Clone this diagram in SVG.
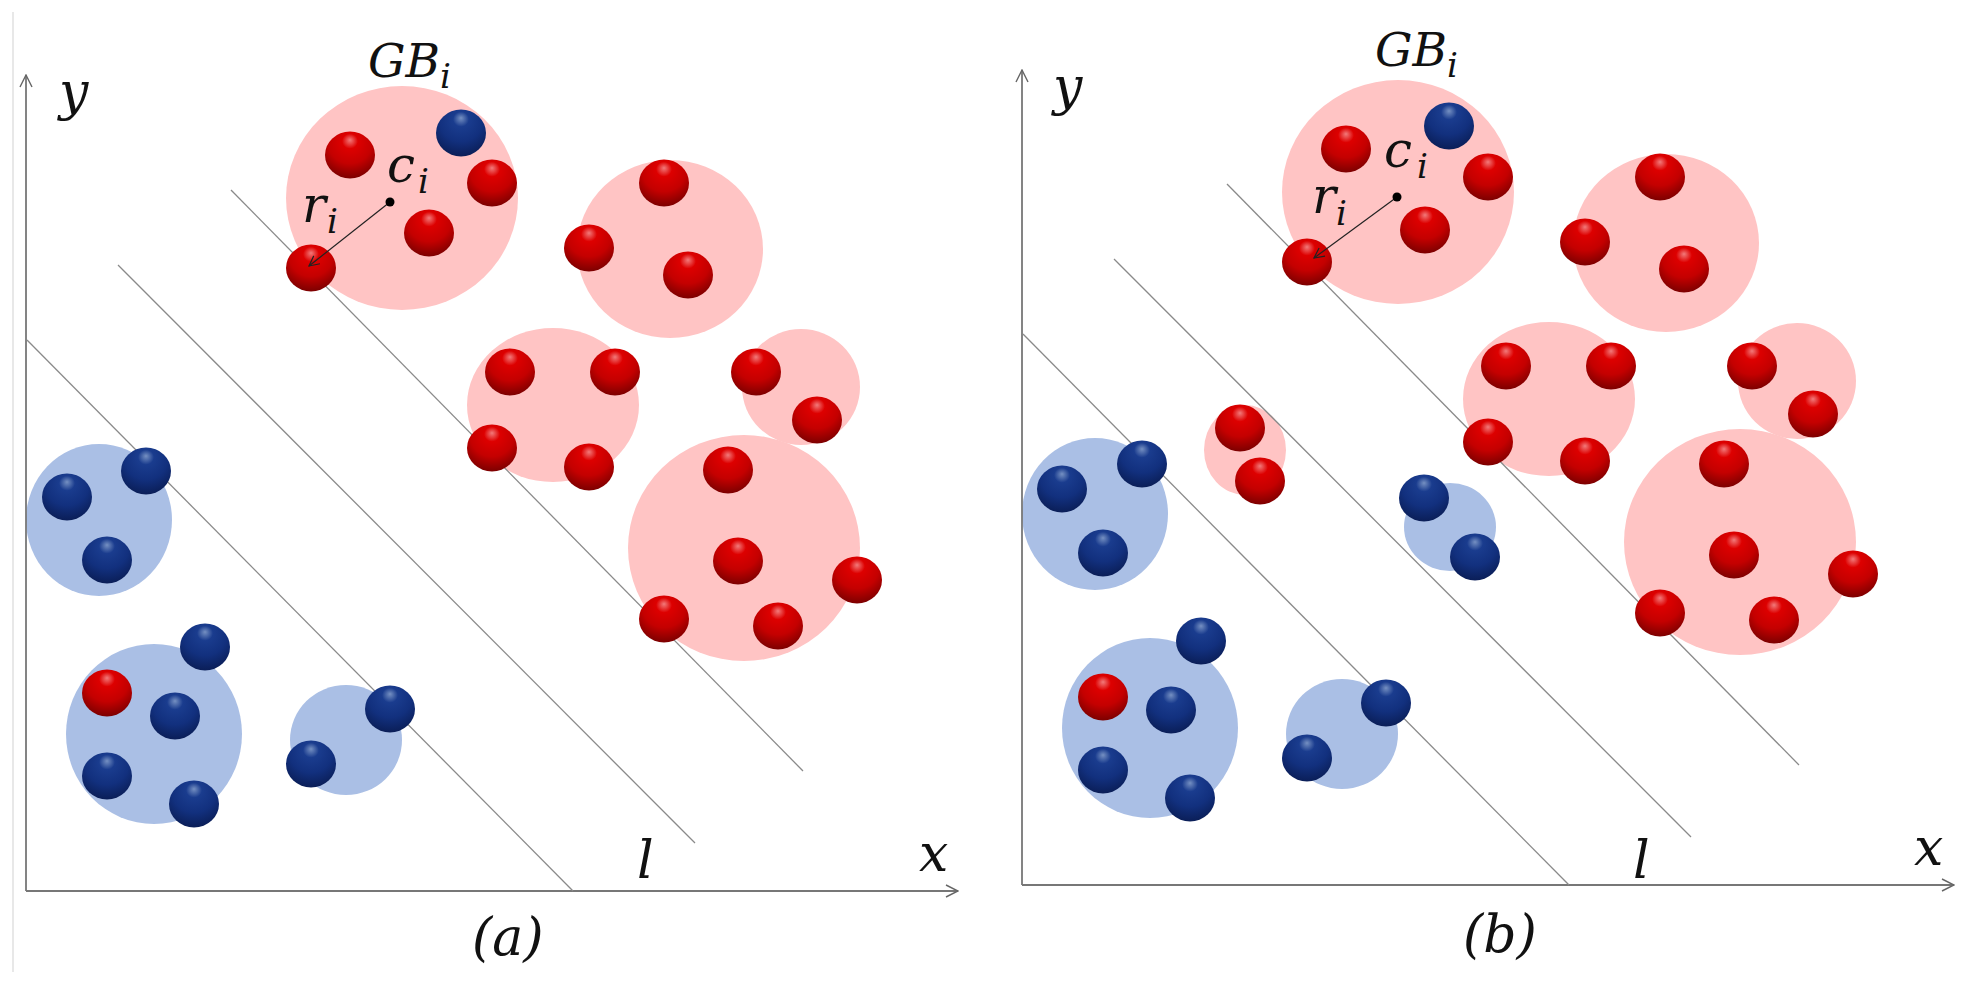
<svg xmlns="http://www.w3.org/2000/svg" width="1967" height="983" viewBox="0 0 1967 983">
<style>
.pk{fill:#FFC4C4}
.bl{fill:#AABFE5}
.r{fill:url(#gr)}
.b{fill:url(#gb)}
.sep{stroke:#8A8A8A;stroke-width:1.3;fill:none}
.ax{stroke:#777;stroke-width:1.8;fill:none}
.m{font-family:"DejaVu Serif","Liberation Serif",serif;font-style:italic;fill:#111}
</style>
<defs>
<radialGradient id="gr" cx="50%" cy="30%" r="72%" fx="50%" fy="18%">
<stop offset="0" stop-color="#F27A7A"/>
<stop offset="0.22" stop-color="#DD0000"/>
<stop offset="0.6" stop-color="#C40000"/>
<stop offset="1" stop-color="#780000"/>
</radialGradient>
<radialGradient id="gb" cx="50%" cy="30%" r="72%" fx="50%" fy="18%">
<stop offset="0" stop-color="#7590C2"/>
<stop offset="0.22" stop-color="#1A3C8E"/>
<stop offset="0.6" stop-color="#12307E"/>
<stop offset="1" stop-color="#0A1D55"/>
</radialGradient>
<marker id="ah" viewBox="0 0 14 14" refX="13" refY="7" markerWidth="14" markerHeight="14" markerUnits="userSpaceOnUse" orient="auto">
<path d="M1,1 L13,7 L1,13" fill="none" stroke="#666" stroke-width="1.4"/>
</marker>
<marker id="ah2" viewBox="0 0 12 12" refX="11" refY="6" markerWidth="12" markerHeight="12" markerUnits="userSpaceOnUse" orient="auto">
<path d="M1,1 L11,6 L1,11" fill="none" stroke="#222" stroke-width="1.2"/>
</marker>
</defs>
<rect width="1967" height="983" fill="#fff"/>
<line x1="13" y1="12" x2="13" y2="972" stroke="#E8E8E8" stroke-width="2"/>

<g id="panel-a">
<g id="a-balls">
<ellipse id="a-gbi" class="pk" cx="402" cy="198" rx="116" ry="112"/>
<ellipse id="a-p2" class="pk" cx="670" cy="249" rx="93" ry="89"/>
<ellipse id="a-p3" class="pk" cx="553" cy="405" rx="86" ry="77"/>
<ellipse id="a-p4" class="pk" cx="801" cy="387" rx="59" ry="58"/>
<ellipse id="a-p5" class="pk" cx="744" cy="548" rx="116" ry="113"/>
<ellipse id="a-b1" class="bl" cx="99" cy="520" rx="73" ry="76"/>
<ellipse id="a-b2" class="bl" cx="154" cy="734" rx="88" ry="90"/>
<ellipse id="a-b3" class="bl" cx="346" cy="740" rx="56" ry="55"/>
</g>
<g id="a-connectors">
<line class="ax" x1="26" y1="891" x2="26" y2="75" marker-end="url(#ah)"/>
<line class="ax" x1="26" y1="891" x2="958" y2="891" marker-end="url(#ah)"/>
<line class="sep" x1="27" y1="340" x2="573" y2="891"/>
<line class="sep" x1="118" y1="265" x2="695" y2="843"/>
<line class="sep" x1="231" y1="190" x2="803" y2="771"/>
</g>
<g id="a-points">
<ellipse class="r" cx="350" cy="155" rx="25" ry="23.5"/>
<ellipse class="b" cx="461" cy="133" rx="25" ry="23.5"/>
<ellipse class="r" cx="492" cy="183" rx="25" ry="23.5"/>
<ellipse class="r" cx="429" cy="233" rx="25" ry="23.5"/>
<ellipse class="r" cx="311" cy="268" rx="25" ry="23.5"/>
<ellipse class="r" cx="664" cy="183" rx="25" ry="23.5"/>
<ellipse class="r" cx="589" cy="248" rx="25" ry="23.5"/>
<ellipse class="r" cx="688" cy="275" rx="25" ry="23.5"/>
<ellipse class="r" cx="510" cy="372" rx="25" ry="23.5"/>
<ellipse class="r" cx="615" cy="372" rx="25" ry="23.5"/>
<ellipse class="r" cx="492" cy="448" rx="25" ry="23.5"/>
<ellipse class="r" cx="589" cy="467" rx="25" ry="23.5"/>
<ellipse class="r" cx="756" cy="372" rx="25" ry="23.5"/>
<ellipse class="r" cx="817" cy="420" rx="25" ry="23.5"/>
<ellipse class="r" cx="728" cy="470" rx="25" ry="23.5"/>
<ellipse class="r" cx="738" cy="561" rx="25" ry="23.5"/>
<ellipse class="r" cx="857" cy="580" rx="25" ry="23.5"/>
<ellipse class="r" cx="664" cy="619" rx="25" ry="23.5"/>
<ellipse class="r" cx="778" cy="626" rx="25" ry="23.5"/>
<ellipse class="b" cx="146" cy="471" rx="25" ry="23.5"/>
<ellipse class="b" cx="67" cy="497" rx="25" ry="23.5"/>
<ellipse class="b" cx="107" cy="560" rx="25" ry="23.5"/>
<ellipse class="b" cx="205" cy="647" rx="25" ry="23.5"/>
<ellipse class="r" cx="107" cy="693" rx="25" ry="23.5"/>
<ellipse class="b" cx="175" cy="716" rx="25" ry="23.5"/>
<ellipse class="b" cx="107" cy="776" rx="25" ry="23.5"/>
<ellipse class="b" cx="194" cy="804" rx="25" ry="23.5"/>
<ellipse class="b" cx="390" cy="709" rx="25" ry="23.5"/>
<ellipse class="b" cx="311" cy="764" rx="25" ry="23.5"/>
</g>
<g id="a-radius">
<line x1="390" y1="202" x2="309" y2="266" stroke="#222" stroke-width="1.2" marker-end="url(#ah2)"/>
<circle cx="390" cy="202" r="4.5" fill="#000"/>
</g>
<g id="a-labels" class="m">
<text x="59" y="109" font-size="52">y</text>
<text x="368" y="77" font-size="47">GB</text>
<text x="440" y="88" font-size="34">i</text>
<text x="387" y="182" font-size="50">c</text>
<text x="418" y="193" font-size="34">i</text>
<text x="302" y="222" font-size="50">r</text>
<text x="327" y="233" font-size="34">i</text>
<text x="637" y="878" font-size="52">l</text>
<text x="919" y="871" font-size="52">x</text>
<text x="472" y="955" font-size="52">(a)</text>
</g>
</g>

<g id="panel-b">
<g transform="translate(996,-6)">
<g id="b-balls">
<ellipse id="b-gbi" class="pk" cx="402" cy="198" rx="116" ry="112"/>
<ellipse id="b-p2" class="pk" cx="670" cy="249" rx="93" ry="89"/>
<ellipse id="b-p3" class="pk" cx="553" cy="405" rx="86" ry="77"/>
<ellipse id="b-p4" class="pk" cx="801" cy="387" rx="59" ry="58"/>
<ellipse id="b-p5" class="pk" cx="744" cy="548" rx="116" ry="113"/>
<ellipse id="b-p6" class="pk" cx="249" cy="456" rx="41" ry="45"/>
<ellipse id="b-b1" class="bl" cx="99" cy="520" rx="73" ry="76"/>
<ellipse id="b-b2" class="bl" cx="154" cy="734" rx="88" ry="90"/>
<ellipse id="b-b3" class="bl" cx="346" cy="740" rx="56" ry="55"/>
<ellipse id="b-b4" class="bl" cx="454" cy="533" rx="46" ry="44"/>
</g>
<g id="b-connectors">
<line class="ax" x1="26" y1="891" x2="26" y2="76" marker-end="url(#ah)"/>
<line class="ax" x1="26" y1="891" x2="958" y2="891" marker-end="url(#ah)"/>
<line class="sep" x1="27" y1="340" x2="573" y2="891"/>
<line class="sep" x1="118" y1="265" x2="695" y2="843"/>
<line class="sep" x1="231" y1="190" x2="803" y2="771"/>
</g>
<g id="b-points">
<ellipse class="r" cx="350" cy="155" rx="25" ry="23.5"/>
<ellipse class="b" cx="453" cy="132" rx="25" ry="23.5"/>
<ellipse class="r" cx="492" cy="183" rx="25" ry="23.5"/>
<ellipse class="r" cx="429" cy="236" rx="25" ry="23.5"/>
<ellipse class="r" cx="311" cy="268" rx="25" ry="23.5"/>
<ellipse class="r" cx="664" cy="183" rx="25" ry="23.5"/>
<ellipse class="r" cx="589" cy="248" rx="25" ry="23.5"/>
<ellipse class="r" cx="688" cy="275" rx="25" ry="23.5"/>
<ellipse class="r" cx="510" cy="372" rx="25" ry="23.5"/>
<ellipse class="r" cx="615" cy="372" rx="25" ry="23.5"/>
<ellipse class="r" cx="492" cy="448" rx="25" ry="23.5"/>
<ellipse class="r" cx="589" cy="467" rx="25" ry="23.5"/>
<ellipse class="r" cx="756" cy="372" rx="25" ry="23.5"/>
<ellipse class="r" cx="817" cy="420" rx="25" ry="23.5"/>
<ellipse class="r" cx="728" cy="470" rx="25" ry="23.5"/>
<ellipse class="r" cx="738" cy="561" rx="25" ry="23.5"/>
<ellipse class="r" cx="857" cy="580" rx="25" ry="23.5"/>
<ellipse class="r" cx="664" cy="619" rx="25" ry="23.5"/>
<ellipse class="r" cx="778" cy="626" rx="25" ry="23.5"/>
<ellipse class="r" cx="244" cy="434" rx="25" ry="23.5"/>
<ellipse class="r" cx="264" cy="487" rx="25" ry="23.5"/>
<ellipse class="b" cx="146" cy="470" rx="25" ry="23.5"/>
<ellipse class="b" cx="66" cy="495" rx="25" ry="23.5"/>
<ellipse class="b" cx="107" cy="559" rx="25" ry="23.5"/>
<ellipse class="b" cx="205" cy="647" rx="25" ry="23.5"/>
<ellipse class="r" cx="107" cy="703" rx="25" ry="23.5"/>
<ellipse class="b" cx="175" cy="716" rx="25" ry="23.5"/>
<ellipse class="b" cx="107" cy="776" rx="25" ry="23.5"/>
<ellipse class="b" cx="194" cy="804" rx="25" ry="23.5"/>
<ellipse class="b" cx="390" cy="709" rx="25" ry="23.5"/>
<ellipse class="b" cx="311" cy="764" rx="25" ry="23.5"/>
<ellipse class="b" cx="428" cy="504" rx="25" ry="23.5"/>
<ellipse class="b" cx="479" cy="563" rx="25" ry="23.5"/>
</g>
<g id="b-radius">
<line x1="401" y1="203" x2="318" y2="264" stroke="#222" stroke-width="1.2" marker-end="url(#ah2)"/>
<circle cx="401" cy="203" r="4.5" fill="#000"/>
</g>
</g>
<g id="b-labels" class="m">
<text x="1053" y="104" font-size="52">y</text>
<text x="1375" y="66" font-size="47">GB</text>
<text x="1447" y="77" font-size="34">i</text>
<text x="1384" y="167" font-size="50">c</text>
<text x="1417" y="178" font-size="34">i</text>
<text x="1312" y="213" font-size="50">r</text>
<text x="1336" y="225" font-size="34">i</text>
<text x="1633" y="878" font-size="52">l</text>
<text x="1914" y="865" font-size="52">x</text>
<text x="1463" y="952" font-size="52">(b)</text>
</g>
</g>
</svg>
